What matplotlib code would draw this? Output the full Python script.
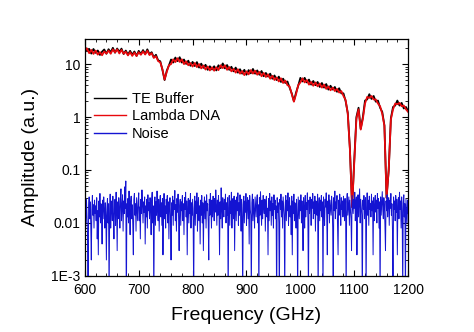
import numpy as np
import matplotlib
matplotlib.use("Agg")
import matplotlib.pyplot as plt
from matplotlib.ticker import LogLocator, NullFormatter, FixedLocator, MultipleLocator

plt.rcParams['font.family'] = ['Liberation Sans', 'DejaVu Sans']

# Transmission spectra, sampled every 4 GHz from 600 to 1200 GHz
spec_freq = np.arange(600, 1201, 4)

te_buffer = [
    21.8, 17.5, 19.4, 15.8, 19.3, 16.3, 18.1, 14.9, 17.2, 18.9,
    15.7, 19.1, 16.7, 20.3, 16.4, 19.7, 17.0, 19.6, 15.5, 18.0,
    15.1, 17.8, 15.1, 17.3, 14.3, 17.8, 15.5, 18.4, 15.6, 19.0,
    15.3, 16.8, 13.4, 15.0, 11.8, 11.3, 7.8, 5.0, 7.5, 9.4,
    12.2, 10.7, 13.3, 11.4, 13.5, 10.7, 12.2, 10.1, 11.6, 9.3,
    11.0, 9.2, 10.9, 8.6, 10.2, 8.5, 9.7, 7.8, 9.1, 7.9,
    9.1, 7.6, 9.5, 8.4, 10.3, 8.3, 9.6, 7.8, 8.9, 7.3,
    8.6, 6.9, 8.0, 6.6, 7.8, 6.3, 7.7, 6.7, 8.1, 6.6,
    7.6, 6.3, 7.4, 5.9, 6.8, 5.8, 6.6, 5.3, 6.1, 5.0,
    5.8, 4.6, 5.3, 4.4, 4.7, 3.6, 2.8, 2.0, 2.9, 3.9,
    5.5, 4.7, 5.5, 4.5, 5.1, 4.1, 4.8, 4.0, 4.6, 3.7,
    4.4, 3.6, 4.2, 3.3, 3.9, 3.3, 3.7, 3.0, 3.5, 2.8,
    2.8, 2.0, 1.2, 0.25, 0.02, 0.15, 1.0, 1.5, 0.6, 1.0,
    2.05, 2.15, 2.7, 2.2, 2.5, 1.95, 2.05, 1.5, 1.25, 0.7,
    0.03, 0.1, 0.95, 1.55, 1.65, 2.05, 1.65, 1.85, 1.45, 1.55,
    1.3,
]

lambda_dna = [
    17.7, 19.8, 16.1, 18.5, 15.6, 18.0, 15.1, 16.8, 14.7, 17.3,
    15.8, 18.0, 15.7, 19.0, 16.6, 19.0, 15.9, 18.5, 15.7, 17.1,
    14.6, 16.8, 14.3, 16.5, 14.2, 16.8, 15.0, 17.4, 15.2, 17.9,
    14.8, 16.1, 13.1, 14.1, 11.4, 10.8, 8.0, 5.1, 7.1, 9.5,
    10.0, 12.3, 10.9, 12.9, 11.0, 12.3, 10.0, 11.3, 9.5, 10.5,
    9.0, 10.5, 8.8, 10.0, 8.3, 9.4, 7.9, 9.0, 7.6, 8.7,
    7.5, 8.7, 7.7, 9.5, 8.4, 9.5, 7.8, 8.8, 7.3, 8.1,
    6.9, 8.0, 6.6, 7.4, 6.2, 7.3, 6.4, 7.7, 6.6, 7.5,
    6.3, 7.1, 5.9, 6.8, 5.7, 6.4, 5.3, 6.0, 5.0, 5.6,
    4.7, 5.4, 4.4, 4.9, 4.0, 3.8, 2.7, 1.95, 2.7, 4.0,
    4.5, 5.4, 4.5, 5.0, 4.1, 4.6, 3.9, 4.5, 3.8, 4.3,
    3.6, 4.1, 3.4, 3.8, 3.2, 3.6, 3.1, 3.4, 2.9, 3.1,
    2.5, 2.1, 1.15, 0.24, 0.02, 0.14, 0.92, 1.4, 0.58, 0.92,
    1.8, 2.4, 2.3, 2.5, 2.15, 2.15, 1.8, 1.6, 1.15, 0.68,
    0.03, 0.1, 0.9, 1.4, 1.8, 1.75, 1.85, 1.6, 1.65, 1.4,
    1.25,
]

# Noise floor, sampled every 1 GHz, in units of 1e-3 a.u.
noise_freq = np.arange(600, 1201, 1)
noise_milli = [
    16, 24, 10, 28, 13, 6, 0.4, 20, 31, 12, 25, 9, 2, 18, 33, 14, 22, 8, 27, 15,
    21, 11, 30, 5, 17, 2.5, 26, 13, 36, 10, 23, 16, 4, 27, 12, 31, 19, 8, 24, 14,
    2, 20, 29, 10, 23, 0.3, 15, 35, 8, 26, 18, 11, 32, 14, 5, 22, 28, 9, 38, 17,
    3, 25, 12, 30, 19, 8, 27, 44, 11, 21, 34, 7, 26, 15, 48, 19, 62, 0.2, 23, 13,
    29, 10, 40, 17, 6, 25, 32, 12, 22, 9, 2.5, 28, 36, 14, 23, 7, 30, 18, 11, 26,
    37, 11, 20, 5, 28, 15, 42, 22, 10, 25, 16, 31, 4, 21, 13, 28, 8, 34, 17, 24,
    12, 30, 19, 6, 26, 38, 10, 21, 0.3, 16, 31, 9, 25, 14, 40, 18, 11, 28, 7, 22,
    33, 13, 24, 9, 29, 2.5, 17, 36, 12, 21, 8, 28, 15, 33, 10, 25, 5, 19, 30, 13,
    2, 24, 14, 32, 9, 27, 18, 41, 11, 22, 7, 29, 16, 35, 12, 3, 21, 28, 9, 25,
    17, 33, 11, 23, 6, 30, 18, 38, 13, 26, 2.5, 20, 29, 10, 27, 15, 36, 8, 24, 14,
    28, 12, 0.4, 19, 32, 9, 26, 15, 37, 7, 22, 30, 11, 21, 4, 27, 14, 33, 10, 24,
    3, 18, 31, 12, 26, 8, 34, 17, 23, 10, 2, 28, 14, 36, 20, 8, 27, 13, 32, 21,
    11, 29, 16, 42, 22, 9, 27, 14, 33, 18, 2.5, 25, 12, 46, 17, 8, 30, 21, 13, 28,
    18, 35, 10, 24, 14, 30, 0.3, 19, 33, 9, 26, 15, 38, 8, 22, 29, 12, 32, 3, 21,
    27, 11, 31, 17, 37, 9, 24, 14, 34, 19, 7, 28, 13, 0.3, 22, 32, 10, 26, 16, 36,
    9, 21, 30, 12, 27, 4, 33, 18, 14, 0.4, 24, 35, 11, 28, 17, 8, 31, 20, 13, 26,
    34, 10, 22, 0.3, 30, 14, 39, 18, 9, 27, 12, 33, 20, 15, 28, 7, 24, 32, 13, 19,
    2.5, 29, 11, 36, 17, 26, 9, 31, 14, 23, 8, 34, 18, 27, 12, 21, 0.2, 30, 16, 24,
    10, 0.3, 28, 18, 35, 13, 26, 8, 31, 20, 14, 0.4, 24, 33, 11, 27, 17, 37, 9, 22,
    30, 13, 21, 6, 32, 2.5, 26, 15, 35, 11, 24, 18, 8, 28, 14, 0.3, 31, 19, 12, 27,
    17, 34, 10, 26, 14, 3, 30, 20, 8, 33, 13, 24, 18, 37, 11, 0.4, 27, 15, 31, 22,
    9, 28, 19, 36, 12, 25, 15, 32, 7, 26, 21, 14, 35, 0.3, 22, 30, 11, 27, 17, 33,
    13, 25, 0.4, 31, 18, 9, 28, 20, 37, 12, 2.5, 26, 15, 34, 10, 27, 19, 14, 32, 22,
    8, 0.3, 30, 17, 40, 12, 25, 19, 33, 10, 2.5, 27, 14, 35, 21, 9, 30, 18, 26, 13,
    32, 22, 11, 29, 16, 0.4, 25, 36, 14, 21, 31, 9, 27, 18, 12, 3, 33, 22, 15, 28,
    19, 38, 11, 26, 31, 2.5, 17, 34, 13, 24, 44, 10, 28, 20, 14, 0.3, 27, 18, 33, 12,
    24, 30, 0.4, 20, 37, 14, 27, 9, 32, 18, 23, 13, 35, 17, 26, 2.5, 30, 11, 21, 33,
    16, 27, 10, 36, 19, 29, 8, 25, 0.3, 31, 14, 23, 39, 18, 12, 30, 21, 9, 3, 26,
    17, 34, 13, 25, 30, 9, 27, 19, 36, 14, 23, 7, 0.3, 31, 18, 26, 11, 33, 16, 28,
    2.5, 21, 30, 12, 38, 18, 26, 8, 31, 16, 0.4, 24, 34, 13, 23, 0.3, 28, 17, 10, 27,
    15,
]
noise = np.array(noise_milli) * 1e-3

fig = plt.figure(figsize=(4.74, 3.32), dpi=100)
ax = fig.add_axes([0.179, 0.169, 0.682, 0.714])

ax.plot(spec_freq, te_buffer, color='black', lw=1.3, label='TE Buffer')
ax.plot(spec_freq, lambda_dna, color='#e8080c', lw=1.3, label='Lambda DNA')
ax.plot(noise_freq, noise, color='#1414d2', lw=0.7, label='Noise')

ax.set_yscale('log')
ax.set_xlim(600, 1200)
ax.set_ylim(1e-3, 30)

ax.yaxis.set_major_locator(FixedLocator([1e-3, 1e-2, 1e-1, 1, 10]))
ax.set_yticklabels(['1E-3', '0.01', '0.1', '1', '10'])
ax.yaxis.set_minor_locator(LogLocator(base=10, subs=np.arange(2, 10), numticks=20))
ax.yaxis.set_minor_formatter(NullFormatter())
ax.xaxis.set_major_locator(MultipleLocator(100))
ax.xaxis.set_minor_locator(MultipleLocator(20))

ax.tick_params(which='both', direction='in', top=True, right=True, labelsize=10)
ax.tick_params(axis='x', pad=5)
ax.tick_params(axis='y', pad=3)
ax.tick_params(which='major', length=4, width=0.8)
ax.tick_params(which='minor', length=2, width=0.6)
for s in ax.spines.values():
    s.set_linewidth(0.9)

ax.set_xlabel('Frequency (GHz)', fontsize=14, labelpad=7)
ax.set_ylabel('Amplitude (a.u.)', fontsize=14, labelpad=9)

leg = ax.legend(loc='upper left', bbox_to_anchor=(0.028, 0.777), frameon=False,
                fontsize=10.5, handlelength=2.2, handletextpad=0.4,
                labelspacing=0.25, borderpad=0, borderaxespad=0)
for line in leg.get_lines():
    line.set_linewidth(1.0)

fig.savefig('out.png', dpi=100)
